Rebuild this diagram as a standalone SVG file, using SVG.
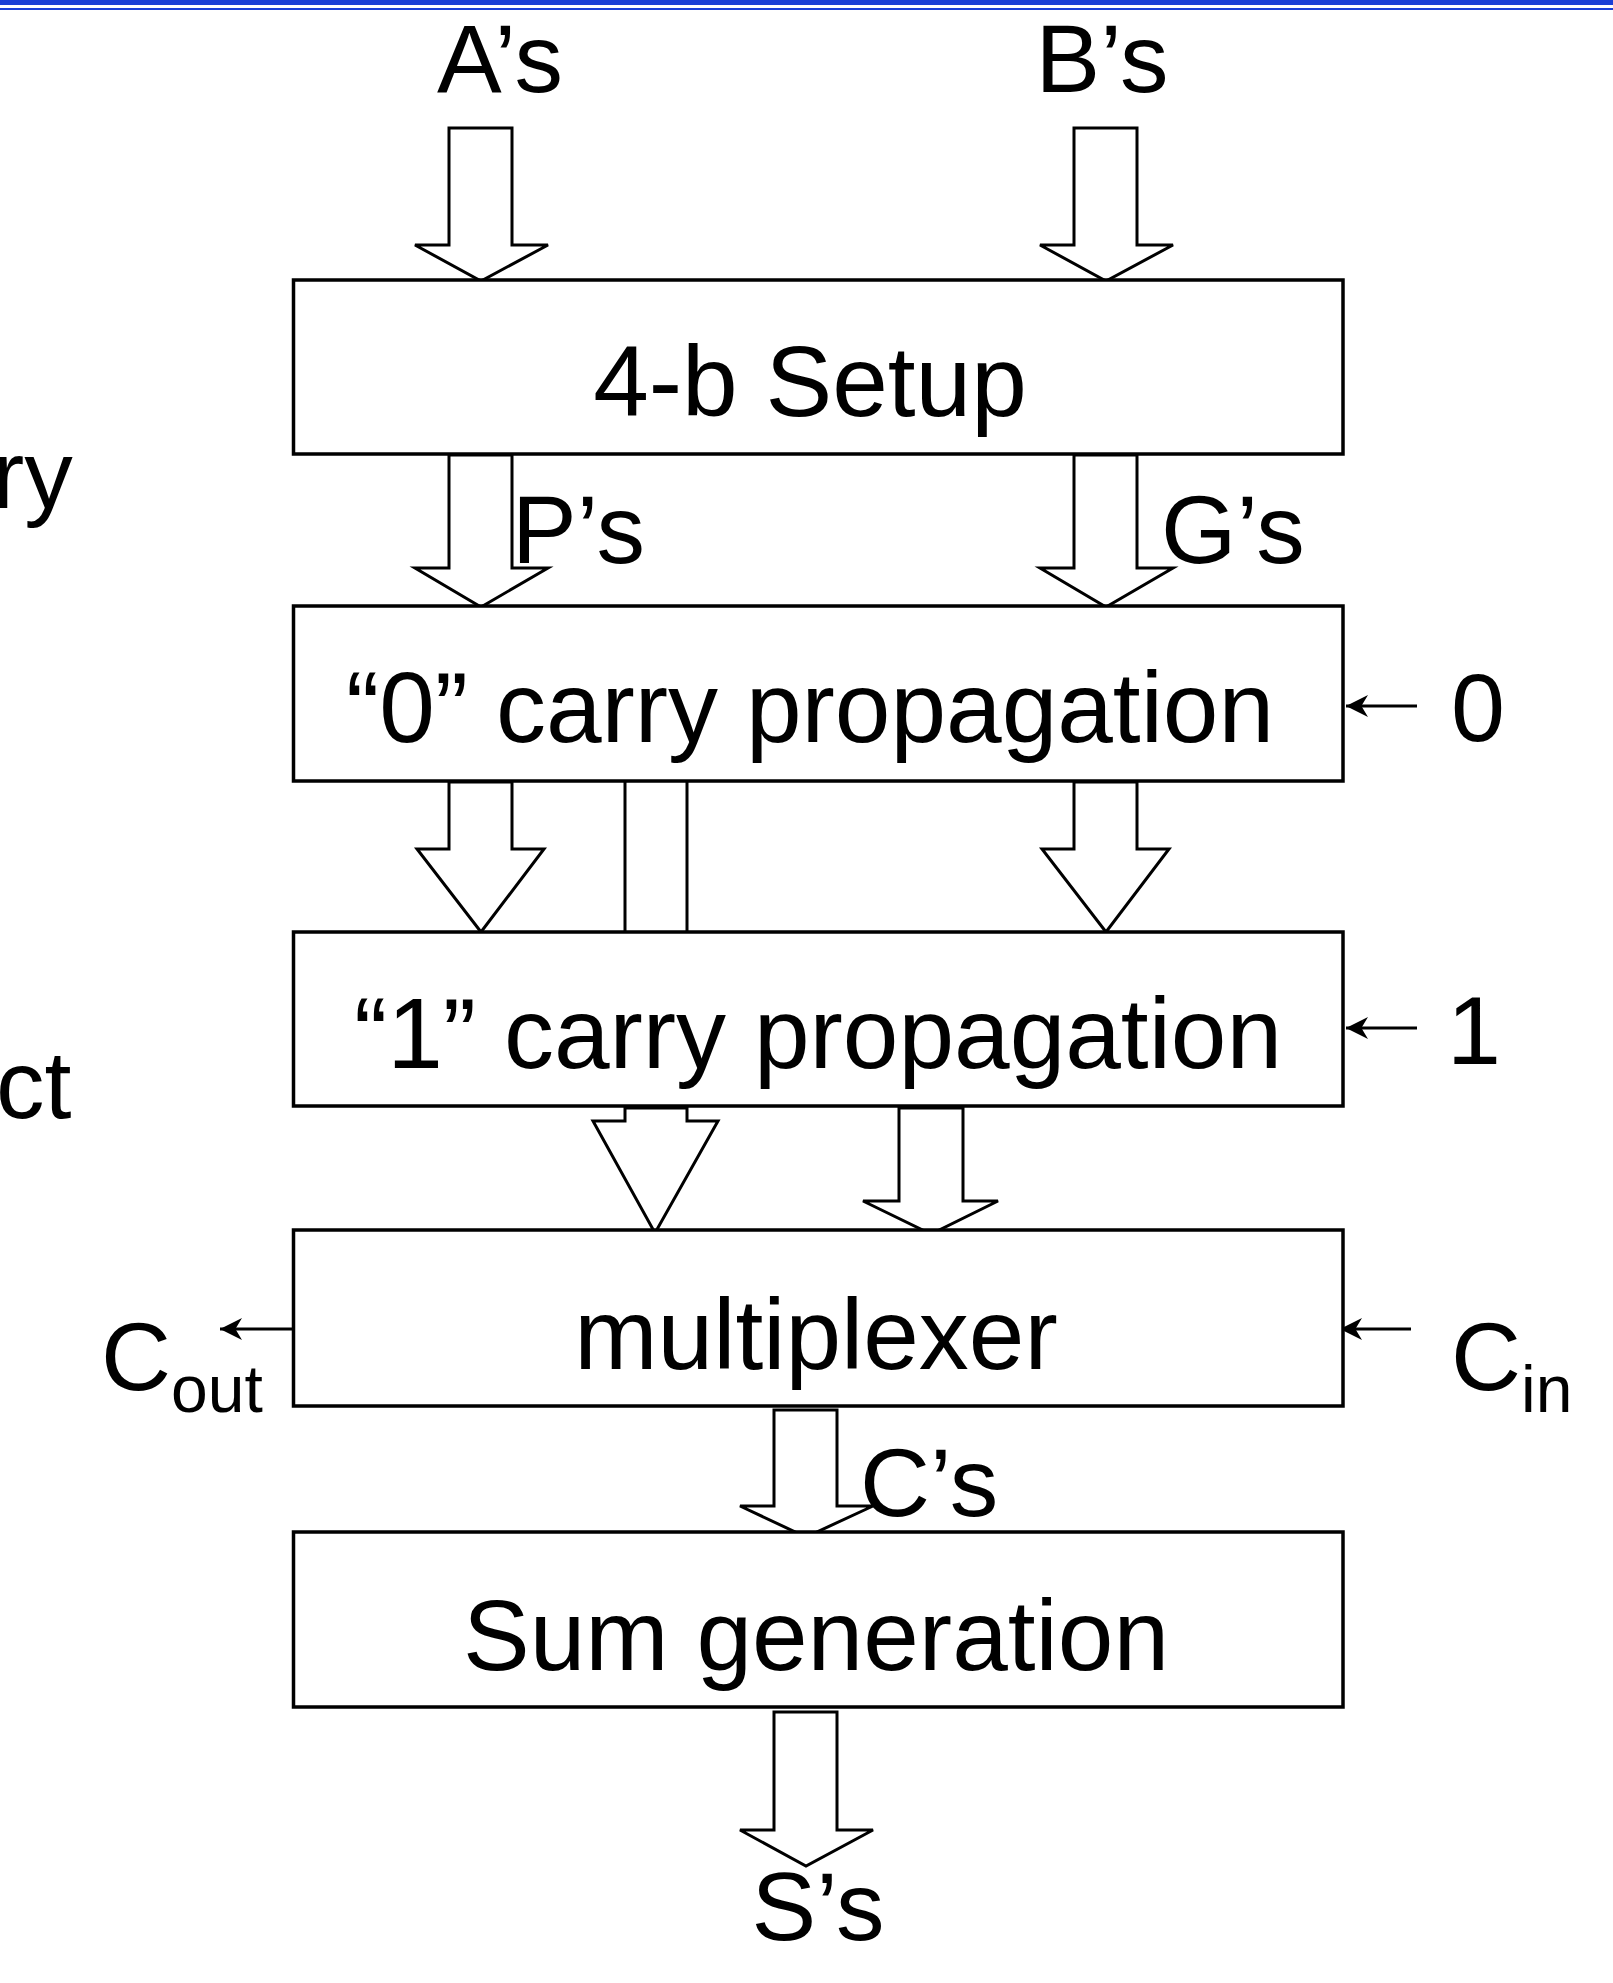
<svg xmlns="http://www.w3.org/2000/svg" width="1613" height="1983" viewBox="0 0 1613 1983">
<defs>
<style>
.b{fill:#fff;stroke:#000;stroke-width:3.5}
.a{fill:#fff;stroke:#000;stroke-width:3;stroke-linejoin:miter}
.l{fill:none;stroke:#000;stroke-width:3}
text{font-family:"Liberation Sans",Arial,sans-serif;fill:#000}
.t{font-size:100px;text-anchor:middle}
.s{font-size:97px}
</style>
<marker id="m" viewBox="0 0 10 10" refX="10" refY="5" markerWidth="26" markerHeight="22" orient="auto" markerUnits="userSpaceOnUse"><path d="M0,0 L10,5 L0,10 L3,5 Z"/></marker>
</defs>
<rect x="0" y="0" width="1613" height="5" fill="#1a3fd6"/>
<rect x="0" y="8" width="1613" height="2" fill="#1a3fd6"/>
<text class="s" x="-8" y="508">ry</text>
<text class="s" x="-4" y="1118">ct</text>
<g id="connectors">
<path class="a" d="M449,128 H512 V245 H548 L481,281 L415,245 H449 Z"/>
<path class="a" d="M1074,128 H1137 V245 H1173 L1106,281 L1040,245 H1074 Z"/>
<path class="a" d="M449,455 H512 V568 H548 L481,607 L415,568 H449 Z"/>
<path class="a" d="M1074,455 H1137 V568 H1173 L1106,607 L1040,568 H1074 Z"/>
<path class="a" d="M449,782 H512 V849 H544 L481,932 L417,849 H449 Z"/>
<path class="l" d="M625,782 V932 M687,782 V932"/>
<path class="a" d="M1074,782 H1137 V849 H1169 L1106,932 L1042,849 H1074 Z"/>
<path class="a" d="M625,1108 H687 V1121 H718 L655,1233 L593,1121 H625 Z"/>
<path class="a" d="M899,1108 H963 V1201 H998 L931,1234 L863,1201 H899 Z"/>
<path class="a" d="M774,1410 H837 V1506 H873 L806,1537 L740,1506 H774 Z"/>
<path class="a" d="M774,1712 H837 V1830 H873 L806,1866 L740,1830 H774 Z"/>
<path class="l" d="M1417,706 H1346" marker-end="url(#m)"/>
<path class="l" d="M1417,1028 H1346" marker-end="url(#m)"/>
<path class="l" d="M1411,1329 H1340" marker-end="url(#m)"/>
<path class="l" d="M293,1329 H220" marker-end="url(#m)"/>
</g>
<text class="s" x="500" y="92" text-anchor="middle">A’s</text>
<text class="s" x="1102" y="92" text-anchor="middle">B’s</text>
<text class="s" x="512" y="563">P’s</text>
<text class="s" x="1161" y="563">G’s</text>
<text class="s" x="860" y="1516">C’s</text>
<text class="s" x="818" y="1940" text-anchor="middle">S’s</text>
<text class="s" x="1451" y="741">0</text>
<text class="s" x="1447" y="1064">1</text>
<text class="s" x="101" y="1390">C<tspan font-size="66" dy="22">out</tspan></text>
<text class="s" x="1451" y="1390">C<tspan font-size="66" dy="22">in</tspan></text>
<g id="setup"><rect class="b" x="293.5" y="280" width="1049.5" height="174"/><text class="t" x="810" y="416">4-b Setup</text></g>
<g id="carry0"><rect class="b" x="293.5" y="606" width="1049.5" height="175"/><text class="t" x="810" y="742">“0” carry propagation</text></g>
<g id="carry1"><rect class="b" x="293.5" y="932" width="1049.5" height="174"/><text class="t" x="818" y="1068">“1” carry propagation</text></g>
<g id="mux"><rect class="b" x="293.5" y="1230" width="1049.5" height="176"/><text class="t" x="816" y="1369">multiplexer</text></g>
<g id="sum"><rect class="b" x="293.5" y="1532" width="1049.5" height="175"/><text class="t" x="816" y="1670">Sum generation</text></g>
</svg>
